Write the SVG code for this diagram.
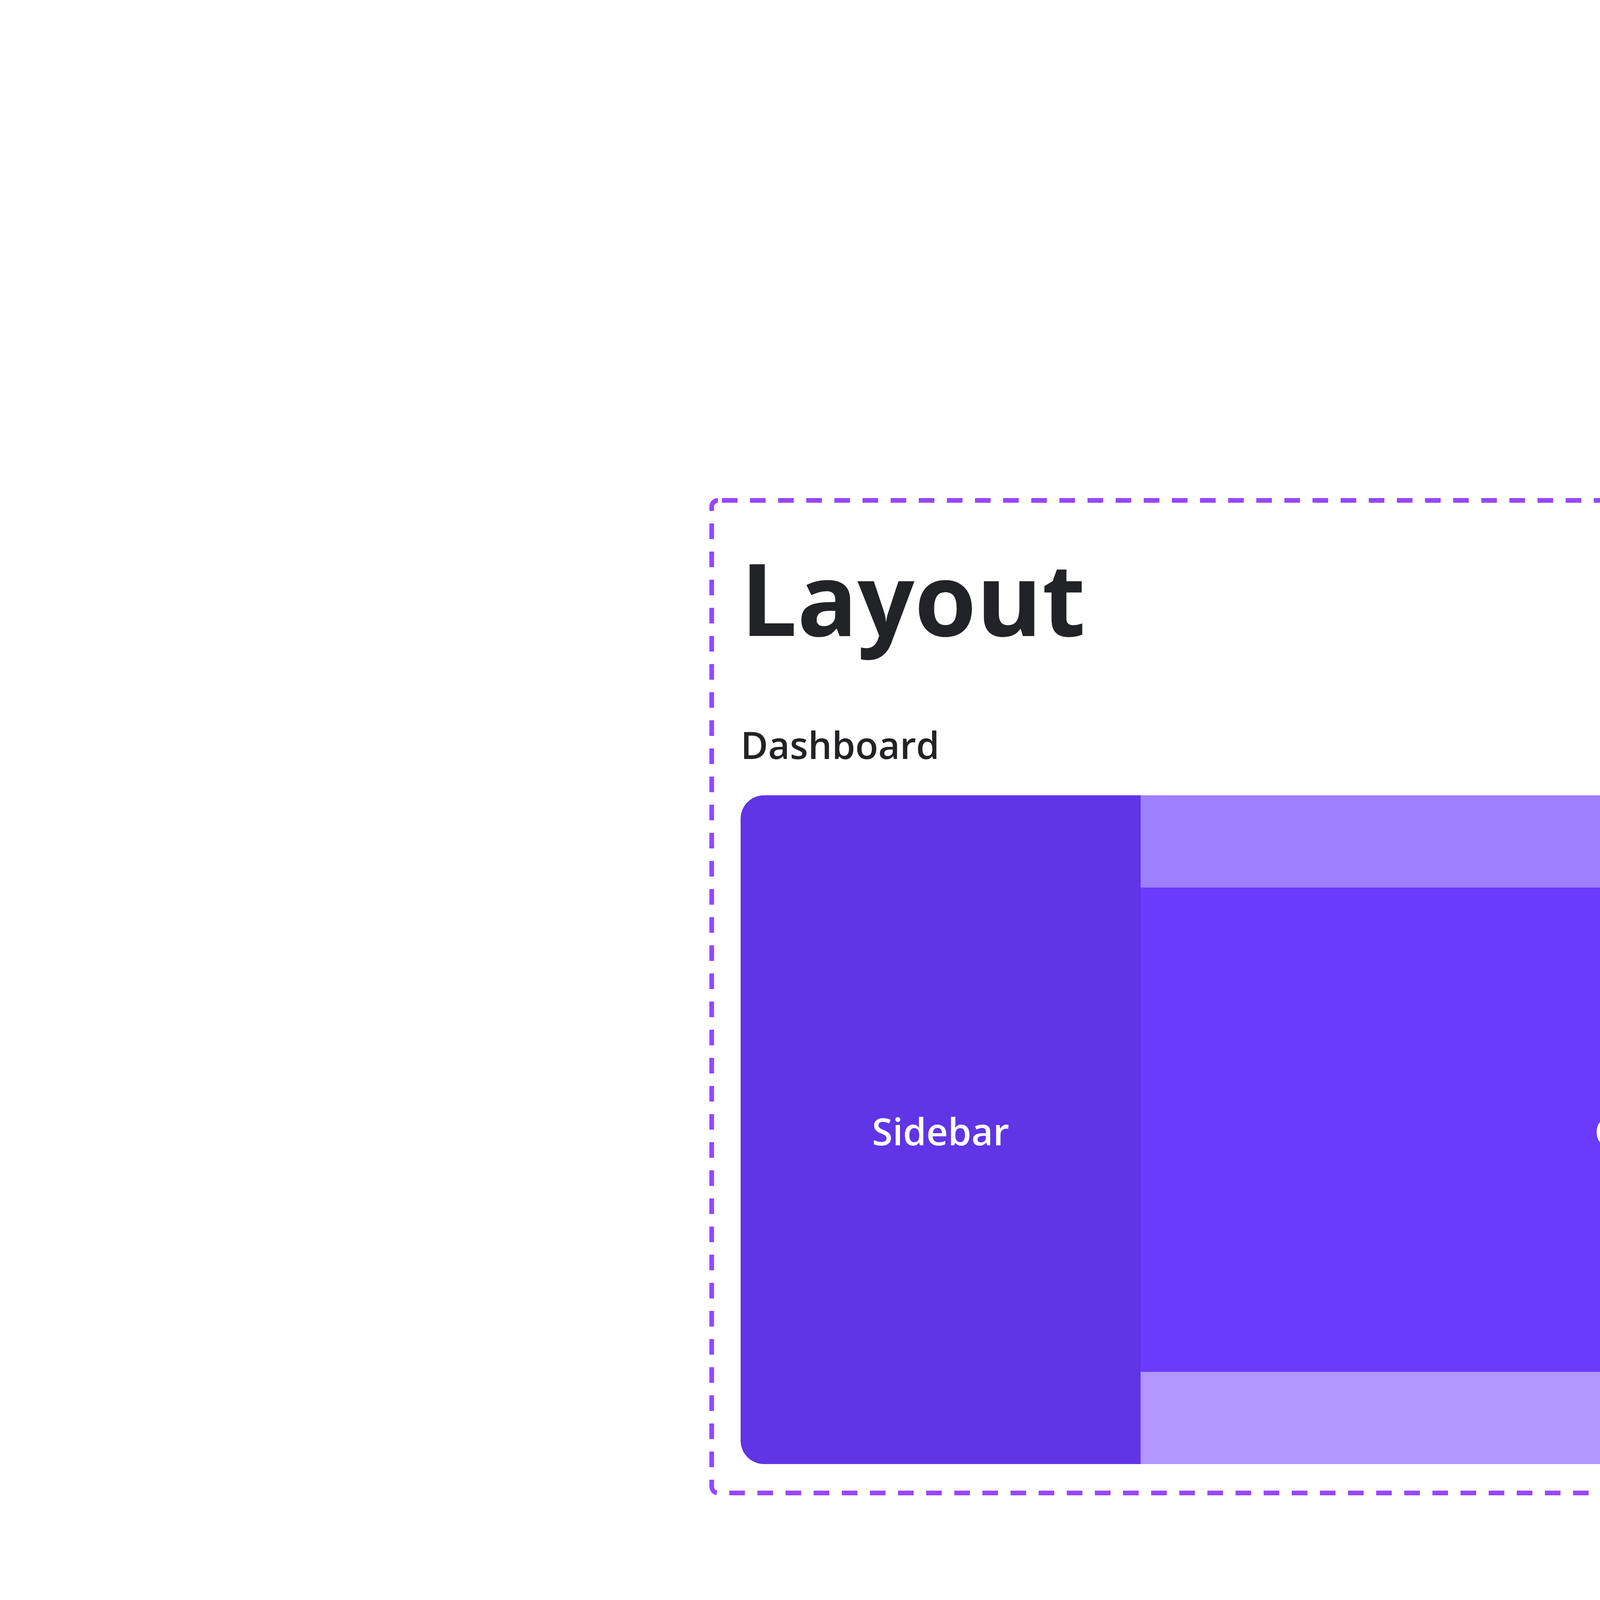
<svg xmlns="http://www.w3.org/2000/svg" width="7512" height="5104" viewBox="0 0 7512 5104">
  <style>
    .label { font-family: "Open Sans", "Noto Sans", "Liberation Sans", sans-serif; font-size: 96px; font-weight: 600; fill: #FFFFFF; text-anchor: middle; }
    .title { font-family: "Open Sans", "Noto Sans", "Liberation Sans", sans-serif; font-size: 256px; font-weight: 700; fill: #222326; }
    .sub { font-family: "Open Sans", "Noto Sans", "Liberation Sans", sans-serif; font-size: 96px; font-weight: 600; fill: #222326; }
  </style>
  <defs>
    <clipPath id="boxClip">
      <rect x="1896" y="2036" width="3720" height="1712" rx="60" ry="60"/>
    </clipPath>
  </defs>
  <rect x="0" y="0" width="7512" height="5104" fill="#FFFFFF"/>
  <g id="section">
    <rect x="1822" y="1281" width="3868" height="2541" rx="16" ry="16" fill="none" stroke="#9747FF" stroke-width="12" stroke-dasharray="40 32" stroke-dashoffset="62"/>
    <text class="title" x="1896" y="1628">Layout</text>
    <text class="sub" x="1896" y="1943">Dashboard</text>
  </g>
  <g id="dashboard" clip-path="url(#boxClip)">
    <g id="sidebar">
      <rect x="1896" y="2036" width="1024" height="1712" fill="#5F35E6"/>
      <text class="label" x="2408" y="2932">Sidebar</text>
    </g>
    <g id="header">
      <rect x="2920" y="2036" width="2696" height="236" fill="#9F80FF"/>
      <text class="label" x="4268" y="2192">Header</text>
    </g>
    <g id="content">
      <rect x="2920" y="2272" width="2696" height="1240" fill="#6A3BFF"/>
      <text class="label" x="4268" y="2932">Content</text>
    </g>
    <g id="footer">
      <rect x="2920" y="3512" width="2696" height="236" fill="#B197FF"/>
      <text class="label" x="4268" y="3668">Footer</text>
    </g>
  </g>
  <g id="connectors"/>
</svg>
